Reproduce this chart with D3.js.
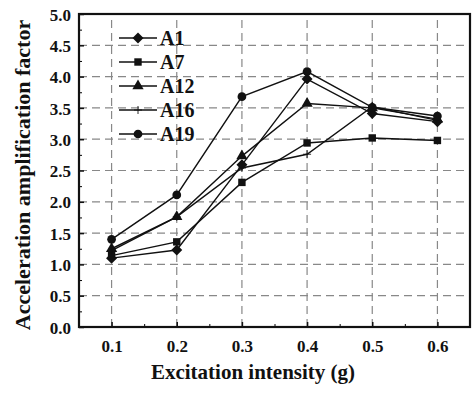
<!DOCTYPE html>
<html><head><meta charset="utf-8">
<script src="https://cdn.jsdelivr.net/npm/d3@7"></script>
<style>body{margin:0;background:#fff}svg{display:block}</style>
</head><body>
<script>
const xValues = [0.1, 0.2, 0.3, 0.4, 0.5, 0.6];
const seriesNames = ["A1", "A7", "A12", "A16", "A19"];
const A1  = [1.10, 1.23, 2.59, 3.96, 3.41, 3.28];
const A7  = [1.14, 1.36, 2.31, 2.94, 3.02, 2.98];
const A12 = [1.25, 1.76, 2.73, 3.57, 3.50, 3.32];
const A16 = [1.22, 1.76, 2.54, 2.76, 3.52, 3.30];
const A19 = [1.40, 2.11, 3.68, 4.08, 3.51, 3.37];
const symbols = ["diamond", "square", "triangle", "plus", "circle"];
const xTicks = [0.1, 0.2, 0.3, 0.4, 0.5, 0.6];
const yTicks = [0.0, 0.5, 1.0, 1.5, 2.0, 2.5, 3.0, 3.5, 4.0, 4.5, 5.0];
const xLabel = "Excitation intensity (g)";
const yLabel = "Acceleration amplification factor";

const seriesData = [A1, A7, A12, A16, A19];
const W = 474, H = 395;
const m = {left: 79, right: 4, top: 14, bottom: 68};
const svg = d3.select("body").append("svg").attr("width", W).attr("height", H);
const font = "'Liberation Serif','Times New Roman',serif";
const x = d3.scaleLinear().domain([0.05, 0.65]).range([m.left, W - m.right]);
const y = d3.scaleLinear().domain([0, 5]).range([H - m.bottom, m.top]);

// grid
const g = svg.append("g");
g.selectAll(".vg").data(xTicks).join("line")
  .attr("x1", d => x(d)).attr("x2", d => x(d)).attr("y1", y(0)).attr("y2", y(5))
  .attr("stroke", "#888").attr("stroke-width", 1.2).attr("stroke-dasharray", "8,5");
g.selectAll(".hg").data(yTicks.slice(1, -1)).join("line")
  .attr("y1", d => y(d)).attr("y2", d => y(d)).attr("x1", x(0.05)).attr("x2", x(0.65))
  .attr("stroke", "#888").attr("stroke-width", 1.2).attr("stroke-dasharray", "8,5");

// axes
const xAxis = d3.axisBottom(x).tickValues(xTicks).tickFormat(d3.format(".1f")).tickSizeInner(-5).tickSizeOuter(0).tickPadding(13);
const gx = svg.append("g").attr("transform", `translate(0,${y(0)})`).call(xAxis);
const xMinor = d3.axisBottom(x).tickValues([0.15,0.25,0.35,0.45,0.55]).tickFormat("").tickSizeInner(-3).tickSizeOuter(0);
svg.append("g").attr("transform", `translate(0,${y(0)})`).call(xMinor).select(".domain").remove();
const yAxis = d3.axisLeft(y).tickValues(yTicks).tickFormat(d3.format(".1f")).tickSizeInner(-5).tickSizeOuter(0).tickPadding(8);
const gy = svg.append("g").attr("transform", `translate(${x(0.05)},0)`).call(yAxis);
const yMinor = d3.axisLeft(y).tickValues(d3.range(0.25, 5, 0.5)).tickFormat("").tickSizeInner(-3).tickSizeOuter(0);
svg.append("g").attr("transform", `translate(${x(0.05)},0)`).call(yMinor).select(".domain").remove();
[gx, gy].forEach(a => {
  a.selectAll("text").attr("font-family", font).attr("font-weight", "bold").attr("font-size", 17).attr("fill", "#111");
  a.selectAll("line").attr("stroke", "#111").attr("stroke-width", 1.5);
});
gy.selectAll("text").attr("dy", "0.36em");

// frame
svg.append("rect").attr("x", x(0.05)).attr("y", y(5)).attr("width", x(0.65) - x(0.05)).attr("height", y(0) - y(5))
  .attr("fill", "none").attr("stroke", "#111").attr("stroke-width", 2.2);

// series
const symMap = {square: d3.symbolSquare, triangle: d3.symbolTriangle, circle: d3.symbolCircle};
const symSize = {square: 55, triangle: 55, circle: 60};
function drawMarker(sel, type, cx, cy) {
  if (type === "plus") {
    sel.append("path").attr("d", `M${cx-4},${cy}H${cx+4}M${cx},${cy-4}V${cy+4}`).attr("stroke", "#111").attr("stroke-width", 0.9);
  } else if (type === "diamond") {
    const r = 5.5;
    sel.append("path").attr("d", `M${cx},${cy-r}L${cx+r},${cy}L${cx},${cy+r}L${cx-r},${cy}Z`).attr("fill", "#111");
  } else {
    sel.append("path").attr("d", d3.symbol(symMap[type], symSize[type])()).attr("transform", `translate(${cx},${cy})`).attr("fill", "#111");
  }
}
const line = d3.line().x((d, i) => x(xValues[i])).y(d => y(d));
seriesData.forEach((vals, k) => {
  const s = svg.append("g");
  s.append("path").datum(vals).attr("d", line).attr("fill", "none").attr("stroke", "#111").attr("stroke-width", 1.4);
  vals.forEach((v, i) => drawMarker(s, symbols[k], x(xValues[i]), y(v)));
});

// legend
const leg = svg.append("g");
seriesNames.forEach((n, k) => {
  const ly = 38 + k * 24;
  leg.append("line").attr("x1", 119).attr("x2", 157).attr("y1", ly).attr("y2", ly).attr("stroke", "#111").attr("stroke-width", 1.4);
  drawMarker(leg, symbols[k], 138, ly);
  leg.append("text").attr("x", 160).attr("y", ly + 7).text(n)
    .attr("font-family", font).attr("font-weight", "bold").attr("font-size", 20).attr("fill", "#111");
});

// axis labels
svg.append("text").attr("x", 253).attr("y", 379).attr("text-anchor", "middle")
  .attr("font-family", font).attr("font-weight", "bold").attr("font-size", 21).attr("fill", "#111").text(xLabel);
svg.append("text").attr("transform", `translate(30,175) rotate(-90)`).attr("text-anchor", "middle")
  .attr("font-family", font).attr("font-weight", "bold").attr("font-size", 22).attr("fill", "#111").text(yLabel);
</script>
</body></html>
